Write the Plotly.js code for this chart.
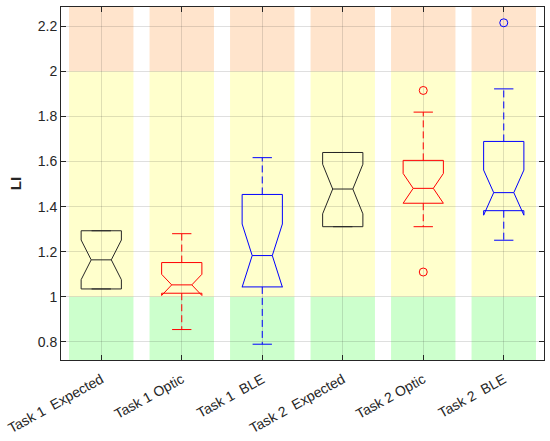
<!DOCTYPE html>
<html>
<head>
<meta charset="utf-8">
<script src="https://cdn.plot.ly/plotly-3.0.1.min.js"></script>
<style>
  html, body { margin: 0; padding: 0; background: #fff; }
  #chart { width: 550px; height: 441px; }
</style>
</head>
<body>
<div id="chart"></div>
<script>
// ---- data ----
const categories = ['Task 1\u00a0 Expected', 'Task 1 Optic', 'Task 1\u00a0 BLE', 'Task 2\u00a0 Expected', 'Task 2 Optic', 'Task 2\u00a0 BLE'];
const q1Values      = [1.035, 1.016, 1.044, 1.311, 1.415, 1.382];
const medianValues  = [1.164, 1.053, 1.183, 1.478, 1.481, 1.462];
const q3Values      = [1.293, 1.152, 1.454, 1.640, 1.605, 1.689];
const notchSpans    = [0.088, 0.047, 0.140, 0.110, 0.066, 0.100];
const lowerWhiskers = [1.035, 0.855, 0.790, 1.311, 1.311, 1.251];
const upperWhiskers = [1.293, 1.280, 1.617, 1.640, 1.819, 1.922];
const outlierValues = [[], [], [], [], [1.915, 1.110], [2.215]];
const boxColors     = ['#262626', '#ff0000', '#0000ff', '#262626', '#ff0000', '#0000ff'];
// LI zones: [lower bound, upper bound, colour]
const zoneBounds = [0.70, 1.0, 2.0, 2.30];
const zoneColors = ['#ccffcc', '#ffffcc', '#ffe4cc'];
const yTicks = [0.8, 1.0, 1.2, 1.4, 1.6, 1.8, 2.0, 2.2];

// ---- build traces ----
const positions = categories.map((c, i) => i + 1);
const capHalf = 0.12;
const traces = [];

categories.forEach((cat, i) => {
  const x = positions[i];
  const col = boxColors[i];
  traces.push({
    type: 'box', x: [x],
    q1: [q1Values[i]], median: [medianValues[i]], q3: [q3Values[i]],
    lowerfence: [q1Values[i]], upperfence: [q3Values[i]],
    notchspan: [notchSpans[i]], notched: true, notchwidth: 0.25,
    width: 0.5, whiskerwidth: 0,
    line: { color: col, width: 1 }, fillcolor: 'rgba(0,0,0,0)',
    hoverinfo: 'skip', showlegend: false
  });
  // dashed whiskers
  traces.push({
    type: 'scatter', mode: 'lines',
    x: [x, x, null, x, x],
    y: [q3Values[i], upperWhiskers[i], null, q1Values[i], lowerWhiskers[i]],
    line: { color: col, width: 1, dash: '7px,4px' },
    hoverinfo: 'skip', showlegend: false
  });
  // whisker caps
  traces.push({
    type: 'scatter', mode: 'lines',
    x: [x - capHalf, x + capHalf, null, x - capHalf, x + capHalf],
    y: [upperWhiskers[i], upperWhiskers[i], null, lowerWhiskers[i], lowerWhiskers[i]],
    line: { color: col, width: 1 },
    hoverinfo: 'skip', showlegend: false
  });
  if (outlierValues[i].length) {
    traces.push({
      type: 'scatter', mode: 'markers',
      x: outlierValues[i].map(() => x), y: outlierValues[i],
      marker: { symbol: 'circle-open', size: 8, color: col, line: { width: 1, color: col } },
      hoverinfo: 'skip', showlegend: false
    });
  }
});

// background zone bands per category
const shapes = [];
positions.forEach(p => {
  zoneColors.forEach((zc, k) => {
    shapes.push({
      type: 'rect', xref: 'x', yref: 'y', layer: 'below',
      x0: p - 0.4, x1: p + 0.4, y0: zoneBounds[k], y1: zoneBounds[k + 1],
      fillcolor: zc, line: { width: 0 }
    });
  });
});

const axisCommon = {
  showline: true, linecolor: '#262626', linewidth: 1, mirror: 'allticks',
  ticks: 'inside', ticklen: 5, tickcolor: '#262626', tickwidth: 1,
  showgrid: true, gridcolor: 'rgba(38,38,38,0.15)', gridwidth: 1,
  zeroline: false,
  tickfont: { family: 'Liberation Sans, Arial, sans-serif', size: 14, color: '#262626' }
};

const layout = {
  width: 550, height: 441,
  margin: { l: 61, r: 6, t: 7, b: 81 },
  paper_bgcolor: '#ffffff', plot_bgcolor: '#ffffff',
  showlegend: false, boxmode: 'overlay',
  xaxis: Object.assign({}, axisCommon, {
    range: [0.5, 6.5], tickmode: 'array', tickvals: positions, ticktext: categories,
    tickangle: -29, ticklabelstandoff: 5
  }),
  yaxis: Object.assign({}, axisCommon, {
    range: [0.72, 2.285], tickmode: 'array', tickvals: yTicks,
    ticktext: yTicks.map(v => String(v)),
    title: { text: 'LI', standoff: 12,
      font: { family: 'Liberation Sans, Arial, sans-serif', size: 15, color: '#262626', weight: 'bold' } }
  }),
  shapes: shapes
};

Plotly.newPlot('chart', traces, layout, { staticPlot: true, displayModeBar: false });
</script>
</body>
</html>
